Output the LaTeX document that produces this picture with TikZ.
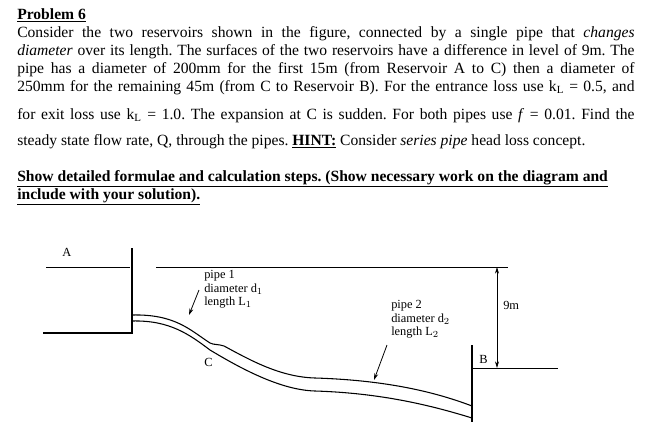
\documentclass[tikz,border=0pt]{standalone}
\usepackage{fontspec}
\setmainfont{Liberation Serif}
\usetikzlibrary{arrows.meta}
\frenchspacing
\begin{document}
\begin{tikzpicture}[x=0.75pt,y=-0.75pt,
  txt/.style={anchor=base west,inner sep=0pt,font=\fontsize{11.7}{13}\selectfont},
  lab/.style={anchor=base west,inner sep=0pt,font=\fontsize{9.3}{10.3}\selectfont},
  wall/.style={line width=1.6pt},
  thin/.style={line width=0.6pt},
  pipe/.style={line width=0.8pt}]
\useasboundingbox (0,0) rectangle (667,421);
\newcommand{\jl}[1]{\makebox[463pt][s]{#1}}
\node[txt] (t0) at (17,19) {\textbf{\underline{Problem 6}}};
\node[txt] (t1) at (17,37) {\jl{Consider the two reservoirs shown in the figure, connected by a single pipe that \textit{changes}}};
\node[txt] (t2) at (17,55) {\jl{\textit{diameter} over its length. The surfaces of the two reservoirs have a difference in level of 9m. The}};
\node[txt] (t3) at (17,73) {\jl{pipe has a diameter of 200mm for the first 15m (from Reservoir A to C) then a diameter of}};
\node[txt] (t4) at (17,91) {\jl{250mm for the remaining 45m (from C to Reservoir B). For the entrance loss use k$_{\mathrm{L}}$ = 0.5, and}};
\node[txt] (t5) at (17,119) {\jl{for exit loss use k$_{\mathrm{L}}$ = 1.0. The expansion at C is sudden. For both pipes use \textit{f} = 0.01. Find the}};
\node[txt] (t6) at (17,145) {steady state flow rate, Q, through the pipes. \textbf{\underline{HINT:}} Consider \textit{series pipe} head loss concept.};
\node[txt] (t7) at (17,181) {\textbf{\underline{Show detailed formulae and calculation steps. (Show necessary work on the diagram and}}};
\node[txt] (t8) at (17,199) {\textbf{\underline{include with your solution).}}};
% reservoir A
\draw[wall] (132,248) -- (132,333) -- (43,333);
\draw[thin] (46,267) -- (130,267);
\node[lab] (A) at (62,256) {A};
% level line
\draw[thin] (156,267) -- (508,267);
% reservoir B
\draw[wall] (472,345) -- (472,429) -- (565,429);
\draw[thin] (472,368) -- (558,368);
\node[lab] (B) at (479,363) {B};
\coordinate (d1) at (497,267); \coordinate (d2) at (497,368);
\draw[thin,{Stealth[length=5pt,width=3pt]}-{Stealth[length=5pt,width=3pt]}] (d1) -- (d2);
\node[lab] (nine) at (503,309) {9m};
% pipe
\draw[pipe] (132,315) .. controls (175,314) and (190,330) .. (210,343) .. controls (214,345) and (218,344) .. (224,346) .. controls (250,360) and (280,377) .. (315,378) .. controls (380,380) and (430,390) .. (472,406);
\draw[pipe] (132,321) .. controls (170,320) and (190,335) .. (210,350) .. controls (240,368) and (280,390) .. (315,391) .. controls (380,393) and (430,405) .. (472,418);
\node[lab] (C) at (204,366) {C};
% labels
\node[lab,align=left,anchor=north west] (p1) at (204,270) {pipe 1\\diameter d$_1$\\length L$_1$};
\coordinate (a1) at (189,315);
\draw[thin,-{Stealth[length=5pt,width=3pt]}] (199,290) -- (a1);
\node[lab,align=left,anchor=north west] (p2) at (391,300) {pipe 2\\diameter d$_2$\\length L$_2$};
\coordinate (a2) at (374,380);
\draw[thin,-{Stealth[length=5pt,width=3pt]}] (387,345) -- (a2);
\end{tikzpicture}
\end{document}
